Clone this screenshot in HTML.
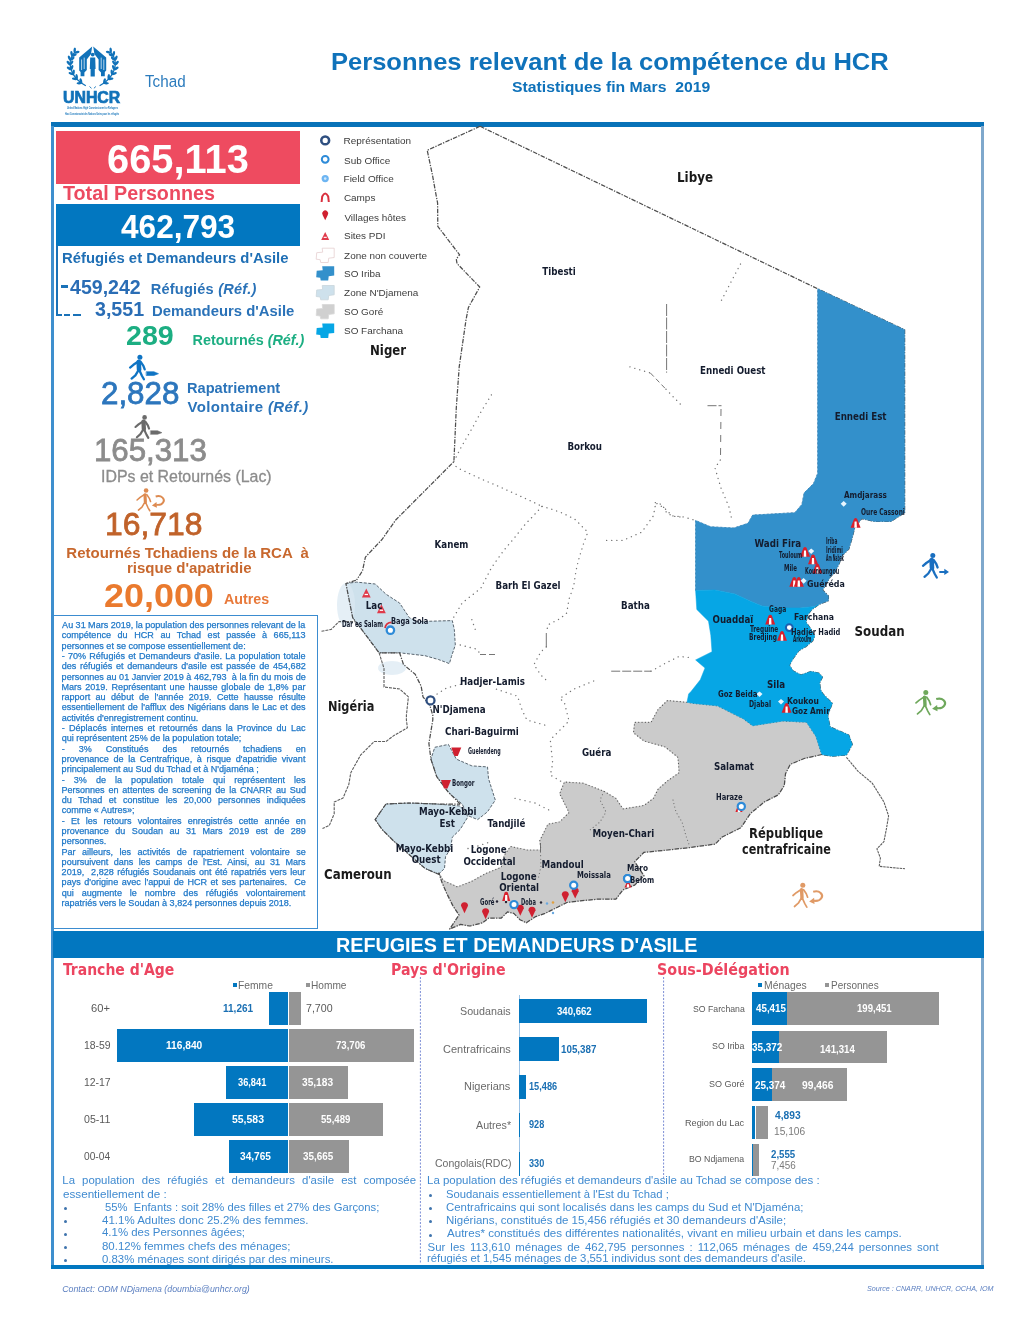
<!DOCTYPE html>
<html lang="fr">
<head>
<meta charset="utf-8">
<title>Tchad - Personnes relevant de la compétence du HCR - Statistiques fin Mars 2019</title>
<style>
html,body{margin:0;padding:0;background:#fff;}
body{width:1024px;height:1325px;position:relative;overflow:hidden;font-family:"Liberation Sans",sans-serif;}
.t{position:absolute;white-space:pre;line-height:1;margin:0;padding:0;font-weight:400;font-family:"Liberation Sans",sans-serif;}
.d{font-family:"DejaVu Sans","Liberation Sans",sans-serif;}
.c{font-family:"DejaVu Sans Condensed","DejaVu Sans","Liberation Sans",sans-serif;}
.b{font-weight:700;}
.i{font-style:italic;}
.r{position:absolute;}
svg{position:absolute;left:0;top:0;overflow:visible;}
.p{position:absolute;margin:0;line-height:1;white-space:nowrap;font-family:"Liberation Sans",sans-serif;}
.p span{position:absolute;left:0;white-space:pre;}
main,header,section,footer,aside,article,figure{display:block;margin:0;padding:0;}
</style>
</head>
<body>

<header>
<svg width="1024" height="130" viewBox="0 0 1024 130" role="img" aria-label="UNHCR logo">
<g fill="#1172b9">
<path d="M75.0 52.0 C66.3 60.5 68.8 76.5 85.8 85.8" fill="none" stroke="#1172b9" stroke-width="1.3"/>
<ellipse cx="74.7" cy="50.1" rx="2.7" ry="1.25" transform="rotate(275 74.7 50.1)"/>
<ellipse cx="76.9" cy="52.2" rx="2.7" ry="1.25" transform="rotate(351 76.9 52.2)"/>
<ellipse cx="71.6" cy="53.6" rx="2.7" ry="1.25" transform="rotate(260 71.6 53.6)"/>
<ellipse cx="74.2" cy="55.0" rx="2.7" ry="1.25" transform="rotate(336 74.2 55.0)"/>
<ellipse cx="69.4" cy="58.1" rx="2.7" ry="1.25" transform="rotate(244 69.4 58.1)"/>
<ellipse cx="72.3" cy="58.7" rx="2.7" ry="1.25" transform="rotate(320 72.3 58.7)"/>
<ellipse cx="68.6" cy="63.1" rx="2.7" ry="1.25" transform="rotate(228 68.6 63.1)"/>
<ellipse cx="71.5" cy="62.9" rx="2.7" ry="1.25" transform="rotate(304 71.5 62.9)"/>
<ellipse cx="69.1" cy="68.4" rx="2.7" ry="1.25" transform="rotate(214 69.1 68.4)"/>
<ellipse cx="71.9" cy="67.5" rx="2.7" ry="1.25" transform="rotate(290 71.9 67.5)"/>
<ellipse cx="71.1" cy="73.7" rx="2.7" ry="1.25" transform="rotate(200 71.1 73.7)"/>
<ellipse cx="73.6" cy="72.2" rx="2.7" ry="1.25" transform="rotate(276 73.6 72.2)"/>
<ellipse cx="74.6" cy="78.8" rx="2.7" ry="1.25" transform="rotate(188 74.6 78.8)"/>
<ellipse cx="76.7" cy="76.8" rx="2.7" ry="1.25" transform="rotate(264 76.7 76.8)"/>
<ellipse cx="79.2" cy="83.2" rx="2.7" ry="1.25" transform="rotate(178 79.2 83.2)"/>
<ellipse cx="80.9" cy="80.8" rx="2.7" ry="1.25" transform="rotate(254 80.9 80.8)"/>
<path d="M110.4 52.0 C119.1 60.5 116.6 76.5 99.6 85.8" fill="none" stroke="#1172b9" stroke-width="1.3"/>
<ellipse cx="110.7" cy="50.1" rx="2.7" ry="1.25" transform="rotate(-95 110.7 50.1)"/>
<ellipse cx="108.5" cy="52.2" rx="2.7" ry="1.25" transform="rotate(-171 108.5 52.2)"/>
<ellipse cx="113.8" cy="53.6" rx="2.7" ry="1.25" transform="rotate(-80 113.8 53.6)"/>
<ellipse cx="111.2" cy="55.0" rx="2.7" ry="1.25" transform="rotate(-156 111.2 55.0)"/>
<ellipse cx="116.0" cy="58.1" rx="2.7" ry="1.25" transform="rotate(-64 116.0 58.1)"/>
<ellipse cx="113.1" cy="58.7" rx="2.7" ry="1.25" transform="rotate(-140 113.1 58.7)"/>
<ellipse cx="116.8" cy="63.1" rx="2.7" ry="1.25" transform="rotate(-48 116.8 63.1)"/>
<ellipse cx="113.9" cy="62.9" rx="2.7" ry="1.25" transform="rotate(-124 113.9 62.9)"/>
<ellipse cx="116.3" cy="68.4" rx="2.7" ry="1.25" transform="rotate(-34 116.3 68.4)"/>
<ellipse cx="113.5" cy="67.5" rx="2.7" ry="1.25" transform="rotate(-110 113.5 67.5)"/>
<ellipse cx="114.3" cy="73.7" rx="2.7" ry="1.25" transform="rotate(-20 114.3 73.7)"/>
<ellipse cx="111.8" cy="72.2" rx="2.7" ry="1.25" transform="rotate(-96 111.8 72.2)"/>
<ellipse cx="110.8" cy="78.8" rx="2.7" ry="1.25" transform="rotate(-8 110.8 78.8)"/>
<ellipse cx="108.7" cy="76.8" rx="2.7" ry="1.25" transform="rotate(-84 108.7 76.8)"/>
<ellipse cx="106.2" cy="83.2" rx="2.7" ry="1.25" transform="rotate(2 106.2 83.2)"/>
<ellipse cx="104.5" cy="80.8" rx="2.7" ry="1.25" transform="rotate(-74 104.5 80.8)"/>
<path d="M92.2 46.6 L79.2 57.4 L79.2 70.5 L80.6 72 L80.6 76.2 L84.4 76.2 L84.4 72.500 L86.8 70 L86.8 59.5 L91 54 Z"/>
<path d="M93.2 46.6 L106.2 57.4 L106.2 70.5 L104.8 72 L104.8 76.2 L101 76.2 L101 72.500 L98.6 70 L98.6 59.5 L94.4 54 Z"/>
<circle cx="92.7" cy="54.6" r="1.9"/>
<path d="M90.2 57.6 L95.2 57.6 L95.600 69 L94.8 69 L94.8 76.4 L90.600 76.4 L90.600 69 L89.8 69 Z"/>
<path d="M89.5 86.5 L91.5 88.3 M95.9 86.5 L93.9 88.3" stroke="#1172b9" stroke-width="0.9" fill="none"/>
</g>
<g stroke="#fff" stroke-width="0.7" fill="none"><path d="M81.6 59.5 V70 M84.2 57.600 V69 M103.8 59.5 V70 M101.2 57.600 V69"/></g>
</svg>
<div class="t b" style="left:63.2px;top:90.4px;font-size:16px;color:#1172b9;transform:scaleX(0.990);transform-origin:0 0;-webkit-text-stroke:0.7px #1172b9;">UNHCR</div>
<div class="t b" style="left:66.9px;top:106.9px;font-size:3.2px;color:#1172b9;transform:scaleX(0.691);transform-origin:0 0;">United Nations High Commissioner for Refugees</div>
<div class="t b" style="left:64.9px;top:112.7px;font-size:3.2px;color:#1172b9;transform:scaleX(0.642);transform-origin:0 0;">Haut Commissariat des Nations Unies pour les réfugiés</div>
<div class="t" style="left:144.5px;top:73.2px;font-size:16.3px;color:#2b7bbd;transform:scaleX(0.935);transform-origin:0 0;">Tchad</div>
<h1 class="t b" style="left:330.9px;top:50.0px;font-size:24px;color:#0f72ba;transform:scaleX(1.064);transform-origin:0 0;">Personnes relevant de la compétence du HCR</h1>
<h2 class="t b" style="left:511.8px;top:79.1px;font-size:15.5px;color:#0f72ba;transform:scaleX(1.019);transform-origin:0 0;">Statistiques fin Mars  2019</h2>
</header>
<div class="r" style="left:50.8px;top:122.2px;width:932.8px;height:4.6px;background:#0872b8;"></div>
<div class="r" style="left:50.8px;top:126.0px;width:3.0px;height:1142.0px;background:#3e8fce;"></div>
<div class="r" style="left:980.6px;top:126.0px;width:3.0px;height:1142.0px;background:#7fa8cc;"></div>
<div class="r" style="left:50.8px;top:1264.6px;width:932.8px;height:4.6px;background:#0277c0;"></div>
<aside>
<div class="r" style="left:55.6px;top:131.3px;width:244.6px;height:52.6px;background:#ee4b60;"></div>
<div class="t b" style="left:106.8px;top:138.4px;font-size:41.5px;color:#fff;transform:scaleX(0.960);transform-origin:0 0;">665,113</div>
<div class="t b" style="left:63.3px;top:184.0px;font-size:19.6px;color:#ec4a60;transform:scaleX(1.006);transform-origin:0 0;">Total Personnes</div>
<div class="r" style="left:55.6px;top:203.6px;width:244.6px;height:42.0px;background:#0277c0;"></div>
<div class="t b" style="left:120.8px;top:210.3px;font-size:33px;color:#fff;transform:scaleX(0.957);transform-origin:0 0;">462,793</div>
<div class="t b" style="left:62.4px;top:250.5px;font-size:14.6px;color:#1f6fb5;transform:scaleX(1.018);transform-origin:0 0;">Réfugiés et Demandeurs d'Asile</div>
<div class="r" style="left:56.4px;top:245.0px;width:2.0px;height:70.8px;background:#1a72b8;"></div>
<div class="r" style="left:56.4px;top:313.6px;width:6.0px;height:2.2px;background:#1a72b8;"></div>
<div class="r" style="left:64.2px;top:313.6px;width:6.0px;height:2.2px;background:#1a72b8;"></div>
<div class="r" style="left:73.0px;top:313.6px;width:8.2px;height:2.2px;background:#1a72b8;"></div>
<div class="r" style="left:61.2px;top:285.4px;width:7.0px;height:2.2px;background:#1a72b8;"></div>
<div class="t b" style="left:70.3px;top:276.7px;font-size:20.8px;color:#2a6db5;transform:scaleX(0.941);transform-origin:0 0;">459,242</div>
<div class="t" style="left:150.7px;top:282.2px;font-size:14.6px;color:#2a72b8;letter-spacing:0.20px;"><span class="b">Réfugiés </span><span class="b i">(Réf.)</span></div>
<div class="t b" style="left:95.3px;top:298.7px;font-size:20.8px;color:#2a6db5;transform:scaleX(0.944);transform-origin:0 0;">3,551</div>
<div class="t b" style="left:151.8px;top:303.6px;font-size:14.6px;color:#2a72b8;transform:scaleX(1.019);transform-origin:0 0;">Demandeurs d'Asile</div>
<div class="t b" style="left:125.5px;top:322.4px;font-size:27.8px;color:#1cae82;transform:scaleX(1.030);transform-origin:0 0;">289</div>
<div class="t" style="left:192.6px;top:333.2px;font-size:14.4px;color:#1cae82;letter-spacing:-0.01px;"><span class="b">Retournés </span><span class="b i">(Réf.)</span></div>
<div class="t" style="left:100.9px;top:378.3px;font-size:31.6px;color:#2c76bd;transform:scaleX(0.991);transform-origin:0 0;-webkit-text-stroke:0.8px #2c76bd;">2,828</div>
<div class="t b" style="left:186.7px;top:381.4px;font-size:14.6px;color:#2b74ba;transform:scaleX(0.999);transform-origin:0 0;">Rapatriement</div>
<div class="t" style="left:187.5px;top:398.8px;font-size:15px;color:#2b74ba;letter-spacing:0.37px;"><span class="b">Volontaire </span><span class="b i">(Réf.)</span></div>
<div class="t" style="left:93.7px;top:435.3px;font-size:31.6px;color:#8c8c8c;transform:scaleX(0.988);transform-origin:0 0;-webkit-text-stroke:0.8px #8c8c8c;">165,313</div>
<div class="t" style="left:100.6px;top:469.1px;font-size:15.7px;color:#8c8c8c;transform:scaleX(1.014);transform-origin:0 0;-webkit-text-stroke:0.3px #8c8c8c;">IDPs et Retournés (Lac)</div>
<div class="t" style="left:105.1px;top:508.7px;font-size:31.6px;color:#c0622a;transform:scaleX(1.008);transform-origin:0 0;-webkit-text-stroke:0.8px #c0622a;">16,718</div>
<div class="t b" style="left:66.3px;top:545.1px;font-size:15px;color:#c8682e;transform:scaleX(1.000);transform-origin:0 0;">Retournés Tchadiens de la RCA  à</div>
<div class="t b" style="left:126.5px;top:559.9px;font-size:15px;color:#c8682e;transform:scaleX(1.001);transform-origin:0 0;">risque d'apatridie</div>
<div class="t b" style="left:104.4px;top:579.5px;font-size:32.5px;color:#ea7a2e;transform:scaleX(1.105);transform-origin:0 0;">20,000</div>
<div class="t b" style="left:223.6px;top:592.1px;font-size:14.4px;color:#e8793a;transform:scaleX(0.993);transform-origin:0 0;">Autres</div>
<svg width="1024" height="1325" viewBox="0 0 1024 1325">
<g transform="translate(139.9,357.3) scale(1.0)" fill="#0f74c4" stroke="#0f74c4" stroke-linecap="round" stroke-linejoin="round"><circle cx="0" cy="0" r="2.5" stroke="none"/><path d="M-1.2 4.6 L-0.8 12.500" fill="none" stroke-width="4.6"/><path d="M-2 4.5 L-6.500 7.500 L-9.800 10.300 M0.800 4.5 L3.500 8.500 L4.800 12 M-1.500 13 L-4.500 18 L-8.300 21.300 M-0.500 13 L2 18.500 L4 22" fill="none" stroke-width="2.3"/><path d="M6.600 14.400 L14 14.400 L18.600 16.400 L14 18.200 L6.600 18.200 Z" stroke-width="0.6"/></g>
<g transform="translate(144.6,417.4) scale(0.93)" fill="#6b6b6b" stroke="#6b6b6b" stroke-linecap="round" stroke-linejoin="round"><circle cx="0" cy="0" r="2.5" stroke="none"/><path d="M-1.2 4.6 L-0.8 12.500" fill="none" stroke-width="4.6"/><path d="M-2 4.5 L-6.500 7.500 L-9.800 10.300 M0.800 4.5 L3.500 8.500 L4.800 12 M-1.500 13 L-4.500 18 L-8.300 21.300 M-0.500 13 L2 18.500 L4 22" fill="none" stroke-width="2.3"/><path d="M6.600 14.400 L14 14.400 L18.600 16.400 L14 18.200 L6.600 18.200 Z" stroke-width="0.6"/></g>
<g transform="translate(146.1,490.5) scale(0.92)" fill="#dd8a50" stroke="#dd8a50" stroke-linecap="round" stroke-linejoin="round"><circle cx="0" cy="0" r="2.5" stroke="none"/><path d="M-1.2 4.6 L-0.8 12.500" fill="none" stroke-width="3.4"/><path d="M-2 4.5 L-6.500 7.500 L-9.800 10.300 M0.800 4.5 L3.500 8.500 L4.800 12 M-1.500 13 L-4.500 18 L-8.300 21.300 M-0.500 13 L2 18.500 L4 22" fill="none" stroke-width="1.7"/><path d="M10.400 6.500 C17 4.600 21 9.500 18.500 13 C17 15.300 13.800 15.900 11 15.500" fill="none" stroke-width="2.1" stroke-linecap="butt"/><path d="M6.300 16.200 L11.300 12.500 L11.700 18.700 Z" stroke="none"/></g>
</svg>
<article>
<div class="r" style="left:50.8px;top:615.0px;width:266.8px;height:314.4px;background:transparent;border:1.6px solid #3b8cd0;box-sizing:border-box;"></div>
<p class="p" style="left:0;top:0;font-size:9.05px;color:#1f78c8;-webkit-text-stroke:0.25px #1f78c8;">
<span style="left:62.1px;top:621.1px;word-spacing:-0.07px;">Au 31 Mars 2019, la population des personnes relevant de la</span>
<span style="left:61.7px;top:631.4px;word-spacing:4.07px;">compétence du HCR au Tchad est passée à 665,113</span>
<span style="left:61.6px;top:641.7px;word-spacing:0.00px;">personnes et se compose essentiellement de:</span>
<span style="left:61.7px;top:652.0px;word-spacing:0.73px;">- 70% Réfugiés et Demandeurs d'asile. La population totale</span>
<span style="left:61.7px;top:662.3px;word-spacing:1.24px;">des réfugiés et demandeurs d'asile est passée de 454,682</span>
<span style="left:61.6px;top:672.5px;word-spacing:0.09px;">personnes au 01 Janvier 2019 à 462,793  à la fin du mois de</span>
<span style="left:61.4px;top:682.8px;word-spacing:1.21px;">Mars 2019. Représentant une hausse globale de 1,8% par</span>
<span style="left:61.5px;top:693.1px;word-spacing:2.89px;">rapport au début de l'année 2019. Cette hausse résulte</span>
<span style="left:61.7px;top:703.4px;word-spacing:0.77px;">essentiellement de l'afflux des Nigérians dans le Lac et des</span>
<span style="left:61.7px;top:713.7px;word-spacing:0.00px;">activités d'enregistrement continu.</span>
<span style="left:61.7px;top:724.0px;word-spacing:1.78px;">- Déplacés internes et retournés dans la Province du Lac</span>
<span style="left:61.7px;top:734.3px;word-spacing:0.00px;">qui représentent 25% de la population totale;</span>
<span style="left:61.7px;top:744.6px;word-spacing:11.44px;">- 3% Constitués des retournés tchadiens en</span>
<span style="left:61.6px;top:754.9px;word-spacing:2.11px;">provenance de la Centrafrique, à risque d'apatridie vivant</span>
<span style="left:61.6px;top:765.2px;word-spacing:0.00px;">principalement au Sud du Tchad et à N'djaména ;</span>
<span style="left:61.7px;top:775.5px;word-spacing:6.54px;">- 3% de la population totale qui représentent les</span>
<span style="left:61.4px;top:785.8px;word-spacing:1.30px;">Personnes en attentes de screening de la CNARR au Sud</span>
<span style="left:61.7px;top:796.1px;word-spacing:4.04px;">du Tchad et constitue les 20,000 personnes indiquées</span>
<span style="left:61.7px;top:806.3px;word-spacing:0.00px;">comme « Autres»;</span>
<span style="left:61.7px;top:816.6px;word-spacing:3.68px;">- Et les retours volontaires enregistrés cette année en</span>
<span style="left:61.6px;top:826.9px;word-spacing:3.94px;">provenance du Soudan au 31 Mars 2019 est de 289</span>
<span style="left:61.6px;top:837.2px;word-spacing:0.00px;">personnes.</span>
<span style="left:61.4px;top:847.5px;word-spacing:3.94px;">Par ailleurs, les activités de rapatriement volontaire se</span>
<span style="left:61.6px;top:857.8px;word-spacing:2.84px;">poursuivent dans les camps de l'Est. Ainsi, au 31 Mars</span>
<span style="left:61.6px;top:868.1px;word-spacing:0.93px;">2019,  2,828 réfugiés Soudanais ont été rapatriés vers leur</span>
<span style="left:61.6px;top:878.4px;word-spacing:1.04px;">pays d'origine avec l'appui de HCR et ses partenaires.  Ce</span>
<span style="left:61.7px;top:888.7px;word-spacing:5.40px;">qui augmente le nombre des réfugiés volontairement</span>
<span style="left:61.5px;top:899.0px;word-spacing:0.00px;">rapatriés vers le Soudan à 3,824 personnes depuis 2018.</span>
</p>
</article>
</aside>
<figure>
<svg width="1024" height="1325" viewBox="0 0 1024 1325" role="img" aria-label="Carte du Tchad">
<path d="M821.8 754.5 L804.2 758.5 L790.2 764.4 L785.5 773.8 L784.3 785.5 L778.4 794.8 L764.4 801.9 L750.3 813.6 L740.9 827.7 L722.2 837 L715.2 844.1 L689.4 847.6 L667.5 850 L644 852.3 L634.7 861.7 L644 875.8 L634.7 885.1 L623 889.8 L615.9 899.2 L597.2 899.2 L580 900.9 L566.9 902.5 L557.5 907.2 L545 913.4 L535.6 916.6 L526.3 922.8 L520 919.7 L513.8 913.4 L507.5 911.9 L501.3 918 L488.8 918 L482.5 922.8 L470 926 L460.6 924.4 L449.7 929 L452.8 924.4 L459 915 L452.8 905.6 L446.6 893.1 L441.9 882.2 L438.8 872.8 L443.4 880.6 L457.5 886.9 L471.6 881.4 L485.6 873.6 L501.3 867.3 L504.4 855 L510.5 846.5 L526.9 850 L540.9 850 L539.8 840.6 L548 824.2 L559.7 821.9 L569.1 812.5 L559.7 793.7 L564.4 782 L583.1 783.2 L604.2 791.4 L615.9 798.4 L623 809 L644 805.5 L653.4 798.4 L658.1 789.1 L667.5 780.9 L679.2 772.7 L678 757.4 L665.1 746.9 L644 741 L633.5 732.8 L634.7 722.3 L651.1 722.3 L658.1 709.4 L667.5 700.5 L687 702.3 L694.1 703.4 L717.5 705.8 L743.3 718.7 L752.7 725.7 L783.1 721 L806.6 722.2 L815.9 736.2 L821.8 754.5 Z" fill="#cbcbcb" stroke="#cbcbcb" stroke-width="0.8"/>
<path d="M345.9 583.5 L356.6 582.1 L375.2 584 L386 594.2 L399.6 603 L409.4 617.7 L417.2 621.6 L452.3 620.6 L454.3 629.4 L455.3 645 L451.4 656.7 L449.4 663.6 L438.7 659.6 L425 655.7 L399.6 652.8 L379.1 652.8 L364.5 633.3 L352.7 617.7 L348.8 598.1 Z" fill="#cee1ec"/>
<path d="M434.8 747.3 L448.4 744.4 L456.3 759.1 L471.9 765.9 L487.5 766.9 L488.5 778.6 L495.3 800.1 L487.5 811.8 L477.7 819.6 L468 815.7 L462.1 804 L448.4 792.3 L436.7 776.6 L430.9 759.1 Z" fill="#cee1ec"/>
<path d="M375.2 819.6 L385.9 804 L409.4 803 L436.7 804 L460.2 806 L468 816.7 L460.2 829.4 L452.3 837.2 L450.4 848.9 L445.5 856.7 L444.5 868.4 L438.7 874.3 L425 868.4 L409.4 854.8 L393.8 841.1 L382 829.4 Z" fill="#cee1ec"/>
<path d="M345.9 583.5 L356.6 582.1 L375.2 584 L386 594.2 L399.6 603 L409.4 617.7 L417.2 621.6 L452.3 620.6 L454.3 629.4 L455.3 645 L451.4 656.7 L449.4 663.6 L438.7 659.6 L425 655.7 L399.6 652.8 L379.1 652.8 L364.5 633.3 L352.7 617.7 L348.8 598.1 Z" fill="none" stroke="#5a6670" stroke-width="1" stroke-dasharray="3 1.500" stroke-linejoin="round"/>
<path d="M434.8 747.3 L448.4 744.4 L456.3 759.1 L471.9 765.9 L487.5 766.9 L488.5 778.6 L495.3 800.1 L487.5 811.8 L477.7 819.6 L468 815.7 L462.1 804 L448.4 792.3 L436.7 776.6 L430.9 759.1 Z" fill="none" stroke="#5a6670" stroke-width="1" stroke-dasharray="3 1.500" stroke-linejoin="round"/>
<path d="M375.2 819.6 L385.9 804 L409.4 803 L436.7 804 L460.2 806 L468 816.7 L460.2 829.4 L452.3 837.2 L450.4 848.9 L445.5 856.7 L444.5 868.4 L438.7 874.3 L425 868.4 L409.4 854.8 L393.8 841.1 L382 829.4 Z" fill="none" stroke="#5a6670" stroke-width="1" stroke-dasharray="3 1.500" stroke-linejoin="round"/>
<path d="M821.8 754.5 L815.9 736.2 L806.6 722.2 L783.1 721 L752.7 725.7 L743.3 718.7 L717.5 705.8 L694.1 703.4 L687 702.3 L667.5 700.5 L658.1 709.4 L651.1 722.3 L634.7 722.3 L633.5 732.8 L644 741 L665.1 746.9 L678 757.4 L679.2 772.7 L667.5 780.9 L658.1 789.1 L653.4 798.4 L644 805.5 L623 809 L615.9 798.4 L604.2 791.4 L583.1 783.2 L564.4 782 L559.7 793.7 L569.1 812.5 L559.7 821.9 L548 824.2 L539.8 840.6 L540.9 850 L526.9 850 L510.5 846.5 L504.4 855 L501.3 867.3 L485.6 873.6 L471.6 881.4 L457.5 886.9 L443.4 880.6 L438.8 872.8" fill="none" stroke="#5a5a5a" stroke-width="1.2" stroke-dasharray="0.100 3.200" stroke-linecap="round" stroke-linejoin="round"/>
<path d="M695.6 590.5 L695.6 520.5 L710.5 526.8 L733.9 528 L748 523.3 L752.7 515.1 L794.8 512.7 L801.9 504.5 L804.2 492.8 L813.6 483.4 L817.7 473.4 L817.7 288.8" fill="none" stroke="#4a6a8a" stroke-width="0.8" stroke-dasharray="2 2"/>
<path d="M604 791.4 L600 800 L606 812 L600 822 L590 830" fill="none" stroke="#6a6a6a" stroke-width="1.1" stroke-dasharray="0.100 3.500" stroke-linecap="round"/>
<path d="M673 800 L676 812 L682 822 L686 836 L690 847" fill="none" stroke="#6a6a6a" stroke-width="1.1" stroke-dasharray="0.100 3.500" stroke-linecap="round"/>
<path d="M540.5 852 L541 866 L538 880" fill="none" stroke="#6a6a6a" stroke-width="1.1" stroke-dasharray="0.100 3.500" stroke-linecap="round"/>
<g fill="#dbe9f3" opacity="0.7"><ellipse cx="346" cy="605" rx="9" ry="22"/><ellipse cx="392" cy="668" rx="14" ry="7"/></g>
<g fill="none" stroke="#4d4d4d" stroke-width="1.25" stroke-linejoin="round" stroke-dasharray="4.500 1.300 1.300 1.300">
<path d="M480.1 126.3 L817.7 288.8 L904.6 329.8 L904.6 512.7 L890.9 521.4 L874.5 521.4 L861.6 518.6 L854.6 528 L852.3 537.3 L848.8 549.1 L841.7 556.1 L839.4 563.1 L834.7 572.5 L830 577.2 L822.5 590 L828.4 595.9 L828.4 600.7 L818.6 604.6 L811.8 609.5 L807.9 614.4 L805.9 622.2 L810.8 629 L814.7 635.9 L812.7 640.8 L805.9 646.6 L799 650.5 L793.2 658.4 L789.3 665.2 L793.2 671 L801 675 L810.8 671.5 L818.6 673 L822.5 677 L819.6 682.8 L820.5 690 L823 694 L832.3 703.4 L827.7 715.2 L830 726.9 L848.7 735 L852.3 744.4 L846.4 755 L832.3 756.2 L821.8 754.5"/>
</g>
<path d="M817.7 288.8 L904.6 329.8 L904.6 512.7 L890.9 521.4 L874.5 521.4 L861.6 518.6 L854.6 528 L852.3 537.3 L848.8 549.1 L841.7 556.1 L839.4 563.1 L834.7 572.5 L830 577.2 L822.5 590 L828.4 595.9 L828.4 600.7 L818.6 604.6 L814.7 606.6 L800 608 L780 608 L762 606 L750 601 L735 594 L715 590 L695.6 590.5 L695.6 520.5 L710.5 526.8 L733.9 528 L748 523.3 L752.7 515.1 L794.8 512.7 L801.9 504.5 L804.2 492.8 L813.6 483.4 L817.7 473.4 Z" fill="#3390cb" stroke="#3390cb" stroke-width="0.5"/>
<path d="M695.6 590.5 L715 590 L735 594 L750 601 L762 606 L780 608 L800 608 L814.7 606.6 L818.6 604.6 L811.8 609.5 L807.9 614.4 L805.9 622.2 L810.8 629 L814.7 635.9 L812.7 640.8 L805.9 646.6 L799 650.5 L793.2 658.4 L789.3 665.2 L793.2 671 L801 675 L810.8 671.5 L818.6 673 L822.5 677 L819.6 682.8 L820.5 690 L823 694 L832.3 703.4 L827.7 715.2 L830 726.9 L848.7 735 L852.3 744.4 L846.4 755 L832.3 756.2 L821.8 754.5 L815.9 736.2 L806.6 722.2 L783.1 721 L752.7 725.7 L743.3 718.7 L717.5 705.8 L694.1 703.4 L687 702.3 L688.6 694 L691 691.5 L700.3 679.8 L705 668 L695.6 659.9 L712 651.7 L710.8 635.3 L708.5 621.2 L696.8 609.5 Z" fill="#06a6e5" stroke="#06a6e5" stroke-width="0.5"/>
<g fill="none" stroke="#4d4d4d" stroke-width="1.25" stroke-linejoin="round" stroke-dasharray="4.500 1.300 1.300 1.300">
<path d="M821.8 754.5 L804.2 758.5 L790.2 764.4 L785.5 773.8 L784.3 785.5 L778.4 794.8 L764.4 801.9 L750.3 813.6 L740.9 827.7 L722.2 837 L715.2 844.1 L689.4 847.6 L667.5 850 L644 852.3 L634.7 861.7 L644 875.8 L634.7 885.1 L623 889.8 L615.9 899.2 L597.2 899.2 L580 900.9 L566.9 902.5 L557.5 907.2 L545 913.4 L535.6 916.6 L526.3 922.8 L520 919.7 L513.8 913.4 L507.5 911.9 L501.3 918 L488.8 918 L482.5 922.8 L470 926 L460.6 924.4 L449.7 929 L452.8 924.4 L459 915 L452.8 905.6 L446.6 893.1 L441.9 882.2 L438.8 872.8"/>
<path d="M480.1 126.3 L427.2 150.3 L432.5 175.2 L436 194.7 L437.6 203 L437.8 226.4 L459.6 254.8 L456.3 259 L457 263.5 L479.7 287 L468.4 307.5 L466 320 L459.2 366.9 L456.3 407.9 L453.9 461.6 L395.7 520 L382 539.5 L365.4 557.1 L362.5 570.8 L356.6 580"/>
<path d="M460.2 804 L448.4 792.3 L436.7 776.6 L430.9 759.1 L428.9 743.4 L432.8 720 L432.8 715.3 L429.9 705.5 L423 696.8 L421.1 686 L415.2 674.3 L403.5 664.5 L399.6 652.8 L379.1 652.8 L364.5 633.3 L352.7 617.7 L348.8 598.1 L345.9 583.5 L356.6 580"/>
<path d="M438.8 872.8 L438.7 874.3 L425 868.4 L409.4 854.8 L393.8 841.1 L382 829.4 L375.2 819.6 L385.9 804 L409.4 803 L436.7 804 L460.2 804"/>
</g>
<g fill="none" stroke="#5e5e5e" stroke-width="1.1" stroke-linejoin="round">
<path d="M321.5 631.3 L331.3 629.4 L339 621.6 L354.7 621.6" stroke-dasharray="3 1"/>
<path d="M379.1 652.8 L384 668.4 L384 687 L399.6 689 L408.4 696.8 L406.4 715.3 L406.4 720 L407.4 727.8 L393.8 735.6 L386 741.5 L374.2 741.5 L360.5 755.2 L350.8 772.7 L348.8 784.5 L343 798.1 L334.2 802 L334.2 813.8 L329.3 825.5 L322.5 828.4" stroke-dasharray="3 1"/>
<path d="M846.4 757.3 L858.1 771.4 L872.2 783.1 L883.9 801.9 L888.6 815.9 L886.2 830 L883.9 841.7 L876.9 848.8 L880.4 858.1 L879.2 866.3 L890.9 867.5 L905 868.7" stroke-dasharray="2.500 0.800"/>
</g>
<g fill="none" stroke="#747474" stroke-width="1.35" stroke-dasharray="0.100 5" stroke-linecap="round">
<path d="M453.9 461.6 L460.2 448.9 L466 438.8 L472.9 427 L481 411.8 L493 392.3"/>
<path d="M456 466.5 L460.5 469.4 L481.6 479.2 L500 487 L519.5 495.8 L534.2 502.6 L542 506.4"/>
<path d="M542 506.4 L550.3 508.7 L563.2 513.4 L574.9 519.3 L583.1 527.5 L587.8 532.2 L583.1 545 L578.4 560.3 L576 570.8 L573.7 586 L569 599 L566.7 613 L559.7 618.9 L548 624.8 L546.3 633"/>
<path d="M546.3 647 L540.9 651.7 L533.9 664.6 L540.9 675.1 L548 681.7"/>
<path d="M542 506.4 L524.5 525.2 L515.2 536.9 L503.4 550.9 L491.7 567.3 L480.7 588.4 L462.1 603 L452.3 619.6"/>
<path d="M471.9 619.6 L475.8 631.3"/>
<path d="M460.2 645 L475.8 648.9 L481.6 654.8"/>
<path d="M606.6 540.4 L623 540.4 L641.7 532.2 L653.4 515.8 L655.8 502.9 L665.1 508.7 L672.2 515.8 L683.9 517 L695.6 520.5"/>
<path d="M651.1 671.2 L665.1 663.4 L679.2 656.4 L691 657.6"/>
<path d="M593.7 681 L573.7 689.2 L559.7 698.6 L564.4 702.3 L569 721 L550.3 739.8 L552.7 763.3 L550.3 775 L562 782"/>
<path d="M496.4 689.2 L517.5 696.2 L522.2 710.3 L526.9 720 L548 726"/>
<path d="M432.8 696.8 L446.5 688 L462 684"/>
<path d="M515 798.4 L535 803 L553 812"/>
<path d="M629.9 366.9 L650.4 373"/>
<path d="M666 389.3 L673.4 397 L681.6 405.4"/>
<path d="M720.3 460 L715 468 L721 488 L729 507 L731.6 518.6"/>
<path d="M655.3 502.6 L662.1 504.6 L667 513.4 L673.8 516.3 L683.6 517.3"/>
<path d="M740.5 264 L731 282 L720.6 302"/>
<path d="M468 848.5 L478 846 L490 842"/>
</g>
<g fill="none" stroke="#666" stroke-width="0.9">
<path d="M666.6 304 V372.700" stroke-dasharray="12 1.500"/>
<path d="M650.4 373 L666 389.300" stroke-dasharray="5 3"/>
<path d="M546.3 633 V647"/>
<path d="M707.5 405.7 H721.5" stroke-dasharray="9 2"/>
<path d="M721 409 L720.5 457" stroke-dasharray="7 6"/>
<path d="M611.2 671.2 H651.1" stroke-dasharray="9 2"/>
<path d="M480 654.5 H495" stroke-dasharray="6 3"/>
<path d="M540.5 843 V852"/>
</g>
<circle cx="325.2" cy="140.4" r="3.9" fill="#fff" stroke="#2f4f80" stroke-width="2.6"/>
<circle cx="325.2" cy="159.3" r="3.4" fill="#fff" stroke="#2e8bd8" stroke-width="2.0"/>
<circle cx="325.2" cy="178.6" r="3.6" fill="#6db5f2"/><circle cx="325.2" cy="178.6" r="1.3" fill="#cfe8fc"/>
<path d="M321.59999999999997 202 L322.2 196.5 Q325.2 190.5 328.2 196.5 L328.8 202" fill="none" stroke="#d9303e" stroke-width="2"/>
<path d="M325.2 220.35 L322.72999999999996 215.125 A3 3 0 1 1 327.67 215.125 Z" fill="#d02030"/>
<path d="M325.2 231.92499999999998 L329.19 240.0 L321.21 240.0 Z" fill="#e03a4a"/><path d="M323.68 236.76999999999998 H326.71999999999997 V237.91 H323.68 Z" fill="#fff"/>
<path d="M322.2 248.2 L334.2 248.2 L334.2 257.5 L328.7 258.2 L328.2 262.5 L320.7 262.5 L320.2 259.7 L316.2 259.2 L316.7 252.7 L322.7 252.2 Z" fill="#fff" stroke="#e6cfd0" stroke-width="0.8" stroke-linejoin="round"/>
<path d="M322.2 266.2 L334.2 266.2 L334.2 275.5 L328.7 276.2 L328.2 280.5 L320.7 280.5 L320.2 277.7 L316.2 277.2 L316.7 270.7 L322.7 270.2 Z" fill="#3390cb" stroke="none" stroke-width="0.8" stroke-linejoin="round"/>
<path d="M322.2 285.5 L334.2 285.5 L334.2 294.8 L328.7 295.5 L328.2 299.8 L320.7 299.8 L320.2 297 L316.2 296.5 L316.7 290 L322.7 289.5 Z" fill="#cee1ec" stroke="#c9d6dc" stroke-width="0.8" stroke-linejoin="round"/>
<path d="M322.2 304.5 L334.2 304.5 L334.2 313.8 L328.7 314.5 L328.2 318.8 L320.7 318.8 L320.2 316 L316.2 315.5 L316.7 309 L322.7 308.5 Z" fill="#d0d0d0" stroke="#d8d8d8" stroke-width="0.8" stroke-linejoin="round"/>
<path d="M322.2 323.6 L334.2 323.6 L334.2 332.9 L328.7 333.6 L328.2 337.9 L320.7 337.9 L320.2 335.1 L316.2 334.6 L316.7 328.1 L322.7 327.6 Z" fill="#06a6e5" stroke="none" stroke-width="0.8" stroke-linejoin="round"/>
<path d="M366.3 588.475 L370.71000000000004 597.4000000000001 L361.89 597.4000000000001 Z" fill="#e03a4a"/><path d="M364.62 593.83 H367.98 V595.09 H364.62 Z" fill="#fff"/>
<path d="M381.4 604.275 L385.81 613.2 L376.98999999999995 613.2 Z" fill="#e03a4a"/><path d="M379.71999999999997 609.63 H383.08 V610.89 H379.71999999999997 Z" fill="#fff"/>
<path d="M385 628 Q386 622.500 391.500 622.300" fill="none" stroke="#d9303e" stroke-width="1.8"/>
<circle cx="390.4" cy="630.2" r="3.7" fill="#fff" stroke="#2e8bd8" stroke-width="2.3"/>
<circle cx="430.5" cy="700.4" r="4.0" fill="#fff" stroke="#2f4f80" stroke-width="2.3"/>
<path d="M451.3 747.5 L461.3 747.5 L457.8 756.0 L454.3 756.0 Z" fill="#d02030"/>
<path d="M441 780 L451 780 L447.5 788.5 L444 788.5 Z" fill="#d02030"/>
<path d="M464.5 913.25 L460.99 905.825 A3 3 0 1 1 468.01 905.825 Z" fill="#d02030"/>
<path d="M485.6 919.25 L482.09000000000003 911.825 A3 3 0 1 1 489.11 911.825 Z" fill="#d02030"/>
<path d="M520.3 915.75 L516.79 908.325 A3 3 0 1 1 523.81 908.325 Z" fill="#d02030"/>
<path d="M532 917.75 L528.49 910.325 A3 3 0 1 1 535.51 910.325 Z" fill="#d02030"/>
<path d="M565.3 902.25 L561.79 894.825 A3 3 0 1 1 568.81 894.825 Z" fill="#d02030"/>
<path d="M575.2 898.55 L571.69 891.125 A3 3 0 1 1 578.71 891.125 Z" fill="#d02030"/>
<path d="M502.2 901.0 L504.6 892.6 Q506.2 891.0 507.8 892.6 L510.2 901.0 Z" fill="#d9202c"/><path d="M504.9 901.0 L505.2 895.0 L507.2 895.0 L507.5 901.0 Z" fill="#fff"/>
<circle cx="514" cy="904.6" r="3.6" fill="#fff" stroke="#2e8bd8" stroke-width="2.2"/>
<circle cx="573.7" cy="885.2" r="3.6" fill="#fff" stroke="#2e8bd8" stroke-width="2.2"/>
<circle cx="627.6" cy="878.6" r="3.6" fill="#fff" stroke="#2e8bd8" stroke-width="2.2"/>
<path d="M624.5 887.5 L626.4 883.1 Q628.0 881.5 629.6 883.1 L631.5 887.5 Z" fill="#d9202c"/><path d="M626.7 887.5 L627.0 884.2 L629.0 884.2 L629.3 887.5 Z" fill="#fff"/>
<circle cx="627.6" cy="878.6" r="3.6" fill="#fff" stroke="#2e8bd8" stroke-width="2.2"/>
<path d="M735.5 812.0 L737.4 806.6 Q739.0 805.0 740.6 806.6 L742.5 812.0 Z" fill="#d9202c"/><path d="M737.7 812.0 L738.0 808.0 L740.0 808.0 L740.3 812.0 Z" fill="#fff"/>
<circle cx="741.3" cy="806.4" r="3.6" fill="#fff" stroke="#2e8bd8" stroke-width="2.2"/>
<path d="M850.6 527.8 L854.0 518.9 Q855.6 517.2 857.2 518.9 L860.6 527.8 Z" fill="#d9202c"/><path d="M854.3 527.8 L854.6 521.4 L856.6 521.4 L856.9 527.8 Z" fill="#fff"/>
<path d="M800.0 556.8 L803.4 547.9 Q805.0 546.2 806.6 547.9 L810.0 556.8 Z" fill="#d9202c"/><path d="M803.7 556.8 L804.0 550.4 L806.0 550.4 L806.3 556.8 Z" fill="#fff"/>
<path d="M808.0 564.2 L811.4 555.4 Q813.0 553.8 814.6 555.4 L818.0 564.2 Z" fill="#d9202c"/><path d="M811.7 564.2 L812.0 557.9 L814.0 557.9 L814.3 564.2 Z" fill="#fff"/>
<path d="M812.3 573.5 L815.7 564.6 Q817.3 563.0 818.9 564.6 L822.3 573.5 Z" fill="#d9202c"/><path d="M816.0 573.5 L816.3 567.2 L818.3 567.2 L818.6 573.5 Z" fill="#fff"/>
<path d="M789.3 586.8 L792.7 577.9 Q794.3 576.2 795.9 577.9 L799.3 586.8 Z" fill="#d9202c"/><path d="M793.0 586.8 L793.3 580.4 L795.3 580.4 L795.6 586.8 Z" fill="#fff"/>
<path d="M793.8 586.8 L797.2 577.9 Q798.8 576.2 800.4 577.9 L803.8 586.8 Z" fill="#d9202c"/><path d="M797.5 586.8 L797.8 580.4 L799.8 580.4 L800.1 586.8 Z" fill="#fff"/>
<path d="M765.2 624.4 L768.6 615.5 Q770.2 613.9 771.8 615.5 L775.2 624.4 Z" fill="#d9202c"/><path d="M768.9 624.4 L769.2 618.0 L771.2 618.0 L771.5 624.4 Z" fill="#fff"/>
<path d="M777.0 640.8 L780.4 631.9 Q782.0 630.2 783.6 631.9 L787.0 640.8 Z" fill="#d9202c"/><path d="M780.7 640.8 L781.0 634.4 L783.0 634.4 L783.3 640.8 Z" fill="#fff"/>
<path d="M781.6 712.8 L785.0 703.9 Q786.6 702.2 788.2 703.9 L791.6 712.8 Z" fill="#d9202c"/><path d="M785.3 712.8 L785.6 706.4 L787.6 706.4 L787.9 712.8 Z" fill="#fff"/>
<path d="M840.7 503.7 L843.7 501.09999999999997 L846.7 503.7 L843.7 506.7 Z" fill="#e8f6ff"/>
<path d="M808.2 551 L811.2 548.4 L814.2 551 L811.2 554 Z" fill="#e8f6ff"/>
<path d="M800.6 580.7 L803.6 578.1 L806.6 580.7 L803.6 583.7 Z" fill="#e8f6ff"/>
<path d="M756.5 694 L759.5 691.4 L762.5 694 L759.5 697 Z" fill="#e8f6ff"/>
<path d="M778 701.5 L781 698.9 L784 701.5 L781 704.5 Z" fill="#e8f6ff"/>
<circle cx="789.3" cy="627.6" r="3.4" fill="#fff" stroke="#1c5fb0" stroke-width="2.0"/>
<circle cx="497" cy="901.5" r="1.2" fill="#223"/>
<circle cx="506" cy="902" r="1.2" fill="#223"/>
<circle cx="541" cy="902.5" r="1.2" fill="#223"/>
<circle cx="553" cy="902.5" r="1.3" fill="#e0a040"/><circle cx="547" cy="903.5" r="1.2" fill="#6aa8e0"/><circle cx="553" cy="913" r="1.2" fill="#6aa8e0"/>
<g transform="translate(932.8,555.5) scale(1.0)" fill="#1a6fc0" stroke="#1a6fc0" stroke-linecap="round" stroke-linejoin="round"><circle cx="0" cy="0" r="2.5" stroke="none"/><path d="M-1.2 4.6 L-0.8 12.500" fill="none" stroke-width="4.6"/><path d="M-2 4.5 L-6.500 7.500 L-9.800 10.300 M0.800 4.5 L3.500 8.500 L4.800 12 M-1.500 13 L-4.500 18 L-8.300 21.300 M-0.500 13 L2 18.500 L4 22" fill="none" stroke-width="2.3"/><path d="M6.500 15.400 L11.500 15.400 L11.500 13.300 L16.200 16.400 L11.500 19.600 L11.500 17.500 L6.500 17.500 Z" stroke="none"/></g>
<g transform="translate(925.8,692.6) scale(1.0)" fill="#6fa85c" stroke="#6fa85c" stroke-linecap="round" stroke-linejoin="round"><circle cx="0" cy="0" r="2.5" stroke="none"/><path d="M-1.2 4.6 L-0.8 12.500" fill="none" stroke-width="3.4"/><path d="M-2 4.5 L-6.500 7.500 L-9.800 10.300 M0.800 4.5 L3.500 8.500 L4.800 12 M-1.500 13 L-4.500 18 L-8.300 21.300 M-0.500 13 L2 18.500 L4 22" fill="none" stroke-width="1.7"/><path d="M10.400 6.500 C17 4.600 21 9.500 18.500 13 C17 15.300 13.800 15.900 11 15.500" fill="none" stroke-width="2.1" stroke-linecap="butt"/><path d="M6.300 16.200 L11.300 12.500 L11.700 18.700 Z" stroke="none"/></g>
<g transform="translate(802.8,885.2) scale(1.0)" fill="#e09a66" stroke="#e09a66" stroke-linecap="round" stroke-linejoin="round"><circle cx="0" cy="0" r="2.5" stroke="none"/><path d="M-1.2 4.6 L-0.8 12.500" fill="none" stroke-width="3.4"/><path d="M-2 4.5 L-6.500 7.500 L-9.800 10.300 M0.800 4.5 L3.500 8.500 L4.800 12 M-1.500 13 L-4.500 18 L-8.300 21.300 M-0.500 13 L2 18.500 L4 22" fill="none" stroke-width="1.7"/><path d="M10.400 6.500 C17 4.600 21 9.500 18.500 13 C17 15.300 13.800 15.900 11 15.500" fill="none" stroke-width="2.1" stroke-linecap="butt"/><path d="M6.300 16.200 L11.300 12.500 L11.700 18.700 Z" stroke="none"/></g>
</svg>
<div class="t" style="left:343.6px;top:135.5px;font-size:9.95px;color:#3c3c3c;transform:scaleX(1.000);transform-origin:0 0;">Représentation</div>
<div class="t" style="left:344.0px;top:155.6px;font-size:9.95px;color:#3c3c3c;transform:scaleX(1.000);transform-origin:0 0;">Sub Office</div>
<div class="t" style="left:343.6px;top:173.7px;font-size:9.95px;color:#3c3c3c;transform:scaleX(1.000);transform-origin:0 0;">Field Office</div>
<div class="t" style="left:343.9px;top:193.3px;font-size:9.95px;color:#3c3c3c;transform:scaleX(1.000);transform-origin:0 0;">Camps</div>
<div class="t" style="left:344.4px;top:212.7px;font-size:9.95px;color:#3c3c3c;transform:scaleX(1.000);transform-origin:0 0;">Villages hôtes</div>
<div class="t" style="left:344.0px;top:231.3px;font-size:9.95px;color:#3c3c3c;transform:scaleX(1.000);transform-origin:0 0;">Sites PDI</div>
<div class="t" style="left:344.1px;top:250.8px;font-size:9.95px;color:#3c3c3c;transform:scaleX(1.000);transform-origin:0 0;">Zone non couverte</div>
<div class="t" style="left:344.0px;top:268.8px;font-size:9.95px;color:#3c3c3c;transform:scaleX(1.000);transform-origin:0 0;">SO Iriba</div>
<div class="t" style="left:344.1px;top:288.1px;font-size:9.95px;color:#3c3c3c;transform:scaleX(1.000);transform-origin:0 0;">Zone N'Djamena</div>
<div class="t" style="left:344.0px;top:307.1px;font-size:9.95px;color:#3c3c3c;transform:scaleX(1.000);transform-origin:0 0;">SO Goré</div>
<div class="t" style="left:344.0px;top:326.2px;font-size:9.95px;color:#3c3c3c;transform:scaleX(1.000);transform-origin:0 0;">SO Farchana</div>
<div class="t c b" style="left:677.4px;top:170.5px;font-size:13.2px;color:#1a1a1a;transform:scaleX(1.005);transform-origin:0 0;">Libye</div>
<div class="t c b" style="left:370.3px;top:344.4px;font-size:13.2px;color:#1a1a1a;transform:scaleX(0.992);transform-origin:0 0;">Niger</div>
<div class="t c b" style="left:328.3px;top:700.0px;font-size:13.2px;color:#1a1a1a;transform:scaleX(0.955);transform-origin:0 0;">Nigéria</div>
<div class="t c b" style="left:323.9px;top:867.8px;font-size:13.2px;color:#1a1a1a;transform:scaleX(0.995);transform-origin:0 0;">Cameroun</div>
<div class="t c b" style="left:854.5px;top:624.5px;font-size:13.2px;color:#1a1a1a;transform:scaleX(1.000);transform-origin:0 0;">Soudan</div>
<div class="t c b" style="left:749.3px;top:827.0px;font-size:13.2px;color:#1a1a1a;transform:scaleX(0.979);transform-origin:0 0;">République</div>
<div class="t c b" style="left:741.7px;top:843.1px;font-size:13.2px;color:#1a1a1a;transform:scaleX(0.947);transform-origin:0 0;">centrafricaine</div>
<div class="t c b" style="left:542.3px;top:267.2px;font-size:9.7px;color:#141c2e;">Tibesti</div>
<div class="t c b" style="left:700.1px;top:365.7px;font-size:9.7px;color:#141c2e;">Ennedi Ouest</div>
<div class="t c b" style="left:834.7px;top:411.9px;font-size:9.7px;color:#141c2e;">Ennedi Est</div>
<div class="t c b" style="left:567.4px;top:442.2px;font-size:9.7px;color:#141c2e;">Borkou</div>
<div class="t c b" style="left:434.6px;top:539.6px;font-size:9.7px;color:#141c2e;">Kanem</div>
<div class="t c b" style="left:495.5px;top:581.3px;font-size:9.7px;color:#141c2e;">Barh El Gazel</div>
<div class="t c b" style="left:621.1px;top:600.7px;font-size:9.7px;color:#141c2e;">Batha</div>
<div class="t c b" style="left:754.6px;top:538.5px;font-size:9.7px;color:#141c2e;">Wadi Fira</div>
<div class="t c b" style="left:712.5px;top:614.6px;font-size:9.7px;color:#141c2e;">Ouaddaï</div>
<div class="t c b" style="left:767.0px;top:679.9px;font-size:9.7px;color:#141c2e;">Sila</div>
<div class="t c b" style="left:713.9px;top:761.9px;font-size:9.7px;color:#141c2e;">Salamat</div>
<div class="t c b" style="left:581.9px;top:747.9px;font-size:9.7px;color:#141c2e;">Guéra</div>
<div class="t c b" style="left:460.0px;top:676.9px;font-size:9.7px;color:#141c2e;">Hadjer-Lamis</div>
<div class="t c b" style="left:445.1px;top:726.5px;font-size:9.7px;color:#141c2e;">Chari-Baguirmi</div>
<div class="t c b" style="left:419.1px;top:806.6px;font-size:9.7px;color:#141c2e;">Mayo-Kebbi</div>
<div class="t c b" style="left:439.5px;top:818.7px;font-size:9.7px;color:#141c2e;">Est</div>
<div class="t c b" style="left:395.7px;top:843.7px;font-size:9.7px;color:#141c2e;">Mayo-Kebbi</div>
<div class="t c b" style="left:411.7px;top:855.4px;font-size:9.7px;color:#141c2e;">Ouest</div>
<div class="t c b" style="left:487.6px;top:819.4px;font-size:9.7px;color:#141c2e;">Tandjilé</div>
<div class="t c b" style="left:470.7px;top:844.7px;font-size:9.7px;color:#141c2e;">Logone</div>
<div class="t c b" style="left:463.4px;top:856.9px;font-size:9.7px;color:#141c2e;">Occidental</div>
<div class="t c b" style="left:500.7px;top:872.2px;font-size:9.7px;color:#141c2e;">Logone</div>
<div class="t c b" style="left:499.2px;top:883.4px;font-size:9.7px;color:#141c2e;">Oriental</div>
<div class="t c b" style="left:541.5px;top:860.4px;font-size:9.7px;color:#141c2e;">Mandoul</div>
<div class="t c b" style="left:592.4px;top:828.8px;font-size:9.7px;color:#141c2e;">Moyen-Chari</div>
<div class="t c b" style="left:365.8px;top:601.2px;font-size:9.7px;color:#141c2e;">Lac</div>
<div class="t c b" style="left:432.5px;top:704.7px;font-size:9.7px;color:#141c2e;">N'Djamena</div>
<div class="t c b" style="left:843.7px;top:491.5px;font-size:8px;color:#141c2e;transform:scaleX(1.007);transform-origin:0 0;">Amdjarass</div>
<div class="t c b" style="left:861.0px;top:509.0px;font-size:8px;color:#141c2e;transform:scaleX(0.821);transform-origin:0 0;">Oure Cassoni</div>
<div class="t c b" style="left:825.7px;top:537.9px;font-size:8px;color:#141c2e;transform:scaleX(0.605);transform-origin:0 0;">Iriba</div>
<div class="t c b" style="left:778.7px;top:552.0px;font-size:8px;color:#141c2e;transform:scaleX(0.683);transform-origin:0 0;">Touloum</div>
<div class="t c b" style="left:825.6px;top:546.5px;font-size:8px;color:#141c2e;transform:scaleX(0.639);transform-origin:0 0;">Iridimi</div>
<div class="t c b" style="left:826.0px;top:554.5px;font-size:8px;color:#141c2e;transform:scaleX(0.434);transform-origin:0 0;">Am Nabak</div>
<div class="t c b" style="left:783.5px;top:565.3px;font-size:8px;color:#141c2e;transform:scaleX(0.763);transform-origin:0 0;">Mile</div>
<div class="t c b" style="left:804.6px;top:568.3px;font-size:8px;color:#141c2e;transform:scaleX(0.671);transform-origin:0 0;">Kounoungou</div>
<div class="t c b" style="left:807.3px;top:581.1px;font-size:8px;color:#141c2e;transform:scaleX(1.101);transform-origin:0 0;">Guéréda</div>
<div class="t c b" style="left:768.7px;top:606.0px;font-size:8px;color:#141c2e;transform:scaleX(0.828);transform-origin:0 0;">Gaga</div>
<div class="t c b" style="left:794.1px;top:613.5px;font-size:8px;color:#141c2e;transform:scaleX(1.077);transform-origin:0 0;">Farchana</div>
<div class="t c b" style="left:750.0px;top:626.0px;font-size:8px;color:#141c2e;transform:scaleX(0.803);transform-origin:0 0;">Treguine</div>
<div class="t c b" style="left:748.5px;top:633.5px;font-size:8px;color:#141c2e;transform:scaleX(0.817);transform-origin:0 0;">Bredjing</div>
<div class="t c b" style="left:790.7px;top:629.0px;font-size:8px;color:#141c2e;transform:scaleX(0.928);transform-origin:0 0;">Hadjer Hadid</div>
<div class="t c b" style="left:793.0px;top:636.0px;font-size:8px;color:#141c2e;transform:scaleX(0.586);transform-origin:0 0;">Arkoum</div>
<div class="t c b" style="left:718.4px;top:691.2px;font-size:8px;color:#141c2e;transform:scaleX(0.977);transform-origin:0 0;">Goz Beida</div>
<div class="t c b" style="left:787.1px;top:697.6px;font-size:8px;color:#141c2e;transform:scaleX(1.055);transform-origin:0 0;">Koukou</div>
<div class="t c b" style="left:748.5px;top:700.6px;font-size:8px;color:#141c2e;transform:scaleX(0.855);transform-origin:0 0;">Djabal</div>
<div class="t c b" style="left:792.2px;top:707.6px;font-size:8px;color:#141c2e;transform:scaleX(1.032);transform-origin:0 0;">Goz Amir</div>
<div class="t c b" style="left:715.7px;top:793.9px;font-size:8px;color:#141c2e;transform:scaleX(0.938);transform-origin:0 0;">Haraze</div>
<div class="t c b" style="left:576.7px;top:872.2px;font-size:8px;color:#141c2e;transform:scaleX(0.957);transform-origin:0 0;">Moissala</div>
<div class="t c b" style="left:626.9px;top:865.2px;font-size:8px;color:#141c2e;transform:scaleX(1.022);transform-origin:0 0;">Maro</div>
<div class="t c b" style="left:630.4px;top:876.5px;font-size:8px;color:#141c2e;transform:scaleX(0.955);transform-origin:0 0;">Belom</div>
<div class="t c b" style="left:479.8px;top:898.7px;font-size:8px;color:#141c2e;transform:scaleX(0.751);transform-origin:0 0;">Goré</div>
<div class="t c b" style="left:520.5px;top:899.0px;font-size:8px;color:#141c2e;transform:scaleX(0.709);transform-origin:0 0;">Doba</div>
<div class="t c b" style="left:391.2px;top:617.6px;font-size:8px;color:#141c2e;transform:scaleX(0.925);transform-origin:0 0;">Baga Sola</div>
<div class="t c b" style="left:341.5px;top:620.5px;font-size:8px;color:#141c2e;transform:scaleX(0.766);transform-origin:0 0;">Dar es Salam</div>
<div class="t c b" style="left:467.8px;top:748.0px;font-size:8px;color:#141c2e;transform:scaleX(0.669);transform-origin:0 0;">Guelendeng</div>
<div class="t c b" style="left:451.5px;top:780.0px;font-size:8px;color:#141c2e;transform:scaleX(0.770);transform-origin:0 0;">Bongor</div>
</figure>
<section>
<div class="r" style="left:53.0px;top:931.4px;width:930.6px;height:26.8px;background:#0277c0;"></div>
<h2 class="t b" style="left:336.3px;top:935.3px;font-size:20.6px;color:#fff;transform:scaleX(0.959);transform-origin:0 0;">REFUGIES ET DEMANDEURS D'ASILE</h2>
<h3 class="t c b" style="left:62.9px;top:961.8px;font-size:16px;color:#ec4560;transform:scaleX(0.971);transform-origin:0 0;">Tranche d'Age</h3>
<h3 class="t c b" style="left:390.9px;top:961.8px;font-size:16px;color:#ec4560;transform:scaleX(0.983);transform-origin:0 0;">Pays d'Origine</h3>
<h3 class="t c b" style="left:657.2px;top:961.8px;font-size:16px;color:#ec4560;transform:scaleX(0.994);transform-origin:0 0;">Sous-Délégation</h3>
<svg width="1024" height="1325" viewBox="0 0 1024 1325"><g stroke="#7d8fd6" stroke-width="1" stroke-dasharray="2 1.500" fill="none"><path d="M420.4 977 V1264"/><path d="M663.6 977 V1178"/></g></svg>
<div class="r" style="left:268.9px;top:991.5px;width:18.9px;height:33.0px;background:#0277c0;"></div>
<div class="r" style="left:288.9px;top:991.5px;width:12.5px;height:33.0px;background:#959595;"></div>
<div class="t" style="left:91.3px;top:1002.7px;font-size:10.8px;color:#595959;transform:scaleX(1.033);transform-origin:0 0;">60+</div>
<div class="t b" style="left:222.6px;top:1002.6px;font-size:11px;color:#1a6fb3;transform:scaleX(0.911);transform-origin:0 0;">11,261</div>
<div class="t" style="left:305.7px;top:1002.8px;font-size:11px;color:#595959;transform:scaleX(0.967);transform-origin:0 0;">7,700</div>
<div class="r" style="left:117.3px;top:1028.6px;width:170.5px;height:33.0px;background:#0277c0;"></div>
<div class="r" style="left:288.9px;top:1028.6px;width:125.2px;height:33.0px;background:#959595;"></div>
<div class="t" style="left:83.5px;top:1039.8px;font-size:10.8px;color:#595959;transform:scaleX(0.966);transform-origin:0 0;">18-59</div>
<div class="t b" style="left:165.7px;top:1039.7px;font-size:11px;color:#fff;transform:scaleX(0.926);transform-origin:0 0;">116,840</div>
<div class="t b" style="left:335.8px;top:1039.9px;font-size:11px;color:#fff;transform:scaleX(0.874);transform-origin:0 0;">73,706</div>
<div class="r" style="left:225.7px;top:1065.7px;width:62.1px;height:33.0px;background:#0277c0;"></div>
<div class="r" style="left:288.9px;top:1065.7px;width:59.2px;height:33.0px;background:#959595;"></div>
<div class="t" style="left:83.5px;top:1076.9px;font-size:10.8px;color:#595959;transform:scaleX(0.966);transform-origin:0 0;">12-17</div>
<div class="t b" style="left:237.7px;top:1076.8px;font-size:11px;color:#fff;transform:scaleX(0.841);transform-origin:0 0;">36,841</div>
<div class="t b" style="left:302.4px;top:1077.0px;font-size:11px;color:#fff;transform:scaleX(0.923);transform-origin:0 0;">35,183</div>
<div class="r" style="left:194.0px;top:1102.8px;width:93.8px;height:33.0px;background:#0277c0;"></div>
<div class="r" style="left:288.9px;top:1102.8px;width:94.2px;height:33.0px;background:#959595;"></div>
<div class="t" style="left:83.9px;top:1114.0px;font-size:10.8px;color:#595959;transform:scaleX(0.980);transform-origin:0 0;">05-11</div>
<div class="t b" style="left:231.7px;top:1113.9px;font-size:11px;color:#fff;transform:scaleX(0.950);transform-origin:0 0;">55,583</div>
<div class="t b" style="left:320.6px;top:1114.1px;font-size:11px;color:#fff;transform:scaleX(0.871);transform-origin:0 0;">55,489</div>
<div class="r" style="left:229.0px;top:1140.1px;width:58.8px;height:33.0px;background:#0277c0;"></div>
<div class="r" style="left:288.9px;top:1140.1px;width:60.5px;height:33.0px;background:#959595;"></div>
<div class="t" style="left:83.9px;top:1151.3px;font-size:10.8px;color:#595959;transform:scaleX(0.943);transform-origin:0 0;">00-04</div>
<div class="t b" style="left:240.2px;top:1151.2px;font-size:11px;color:#fff;transform:scaleX(0.920);transform-origin:0 0;">34,765</div>
<div class="t b" style="left:303.0px;top:1151.4px;font-size:11px;color:#fff;transform:scaleX(0.899);transform-origin:0 0;">35,665</div>
<div class="r" style="left:232.8px;top:982.6px;width:4.2px;height:4.4px;background:#0277c0;"></div>
<div class="t" style="left:238.2px;top:979.8px;font-size:10.6px;color:#6a6a6a;transform:scaleX(0.972);transform-origin:0 0;">Femme</div>
<div class="r" style="left:305.7px;top:982.6px;width:4.3px;height:4.4px;background:#959595;"></div>
<div class="t" style="left:311.2px;top:979.8px;font-size:10.6px;color:#6a6a6a;transform:scaleX(0.957);transform-origin:0 0;">Homme</div>
<div class="r" style="left:518.8px;top:995.0px;width:0.8px;height:181.0px;background:#9cc3e6;"></div>
<div class="r" style="left:519.2px;top:999.1px;width:128.0px;height:24.0px;background:#0277c0;"></div>
<div class="t" style="left:460.1px;top:1005.8px;font-size:10.8px;color:#6a6a6a;transform:scaleX(0.993);transform-origin:0 0;">Soudanais</div>
<div class="t b" style="left:557.1px;top:1005.7px;font-size:11px;color:#fff;transform:scaleX(0.873);transform-origin:0 0;">340,662</div>
<div class="r" style="left:519.2px;top:1037.2px;width:39.5px;height:24.0px;background:#0277c0;"></div>
<div class="t" style="left:443.0px;top:1043.9px;font-size:10.8px;color:#6a6a6a;transform:scaleX(1.018);transform-origin:0 0;">Centrafricains</div>
<div class="t b" style="left:561.1px;top:1043.8px;font-size:11px;color:#1a6fb3;transform:scaleX(0.892);transform-origin:0 0;">105,387</div>
<div class="r" style="left:519.2px;top:1074.7px;width:6.4px;height:24.0px;background:#0277c0;"></div>
<div class="t" style="left:464.4px;top:1081.4px;font-size:10.8px;color:#6a6a6a;transform:scaleX(1.016);transform-origin:0 0;">Nigerians</div>
<div class="t b" style="left:529.4px;top:1081.3px;font-size:11px;color:#1a6fb3;transform:scaleX(0.837);transform-origin:0 0;">15,486</div>
<div class="r" style="left:518.6px;top:1112.8px;width:1.4px;height:24.0px;background:#0277c0;"></div>
<div class="t" style="left:475.5px;top:1119.5px;font-size:10.8px;color:#6a6a6a;transform:scaleX(0.990);transform-origin:0 0;">Autres*</div>
<div class="t b" style="left:528.5px;top:1119.4px;font-size:11px;color:#1a6fb3;transform:scaleX(0.830);transform-origin:0 0;">928</div>
<div class="r" style="left:518.6px;top:1151.5px;width:1.4px;height:24.0px;background:#0277c0;"></div>
<div class="t" style="left:434.5px;top:1158.2px;font-size:10.8px;color:#6a6a6a;transform:scaleX(0.974);transform-origin:0 0;">Congolais(RDC)</div>
<div class="t b" style="left:528.6px;top:1158.1px;font-size:11px;color:#1a6fb3;transform:scaleX(0.830);transform-origin:0 0;">330</div>
<div class="r" style="left:751.7px;top:992.4px;width:35.3px;height:32.6px;background:#0277c0;"></div>
<div class="r" style="left:787.0px;top:992.4px;width:152.2px;height:32.6px;background:#959595;"></div>
<div class="r" style="left:751.7px;top:1030.6px;width:27.0px;height:32.6px;background:#0277c0;"></div>
<div class="r" style="left:778.7px;top:1030.6px;width:108.0px;height:32.6px;background:#959595;"></div>
<div class="r" style="left:751.7px;top:1068.1px;width:20.3px;height:32.6px;background:#0277c0;"></div>
<div class="r" style="left:772.0px;top:1068.1px;width:75.3px;height:32.6px;background:#959595;"></div>
<div class="r" style="left:751.7px;top:1106.4px;width:3.8px;height:32.6px;background:#0277c0;"></div>
<div class="r" style="left:755.5px;top:1106.4px;width:12.0px;height:32.6px;background:#959595;"></div>
<div class="r" style="left:751.7px;top:1143.8px;width:1.7px;height:32.6px;background:#0277c0;"></div>
<div class="r" style="left:753.4px;top:1143.8px;width:5.8px;height:32.6px;background:#959595;"></div>
<div class="t" style="left:692.5px;top:1004.3px;font-size:9.8px;color:#595959;transform:scaleX(0.888);transform-origin:0 0;">SO Farchana</div>
<div class="t" style="left:711.9px;top:1040.9px;font-size:9.8px;color:#595959;transform:scaleX(0.901);transform-origin:0 0;">SO Iriba</div>
<div class="t" style="left:709.1px;top:1079.2px;font-size:9.8px;color:#595959;transform:scaleX(0.920);transform-origin:0 0;">SO Goré</div>
<div class="t" style="left:685.4px;top:1118.0px;font-size:9.8px;color:#595959;transform:scaleX(0.936);transform-origin:0 0;">Region du Lac</div>
<div class="t" style="left:689.2px;top:1154.4px;font-size:9.8px;color:#595959;transform:scaleX(0.895);transform-origin:0 0;">BO Ndjamena</div>
<div class="t b" style="left:755.6px;top:1003.4px;font-size:11px;color:#fff;transform:scaleX(0.891);transform-origin:0 0;">45,415</div>
<div class="t b" style="left:856.6px;top:1003.4px;font-size:11px;color:#fff;transform:scaleX(0.873);transform-origin:0 0;">199,451</div>
<div class="t b" style="left:751.7px;top:1042.0px;font-size:11px;color:#fff;transform:scaleX(0.902);transform-origin:0 0;">35,372</div>
<div class="t b" style="left:820.2px;top:1043.9px;font-size:11px;color:#fff;transform:scaleX(0.875);transform-origin:0 0;">141,314</div>
<div class="t b" style="left:754.9px;top:1080.3px;font-size:11px;color:#fff;transform:scaleX(0.903);transform-origin:0 0;">25,374</div>
<div class="t b" style="left:801.9px;top:1080.3px;font-size:11px;color:#fff;transform:scaleX(0.938);transform-origin:0 0;">99,466</div>
<div class="t b" style="left:774.8px;top:1110.3px;font-size:11px;color:#1a6fb3;transform:scaleX(0.931);transform-origin:0 0;">4,893</div>
<div class="t" style="left:774.2px;top:1125.7px;font-size:11px;color:#7a7a7a;transform:scaleX(0.926);transform-origin:0 0;">15,106</div>
<div class="t b" style="left:770.9px;top:1148.9px;font-size:11px;color:#1a6fb3;transform:scaleX(0.881);transform-origin:0 0;">2,555</div>
<div class="t" style="left:770.7px;top:1160.2px;font-size:11px;color:#7a7a7a;transform:scaleX(0.894);transform-origin:0 0;">7,456</div>
<div class="r" style="left:757.9px;top:982.6px;width:4.5px;height:4.4px;background:#0277c0;"></div>
<div class="t" style="left:764.0px;top:979.8px;font-size:10.6px;color:#6a6a6a;transform:scaleX(0.979);transform-origin:0 0;">Ménages</div>
<div class="r" style="left:824.9px;top:982.6px;width:4.5px;height:4.4px;background:#959595;"></div>
<div class="t" style="left:831.0px;top:979.8px;font-size:10.6px;color:#6a6a6a;transform:scaleX(0.940);transform-origin:0 0;">Personnes</div>
<div>
<div class="t" style="left:62.3px;top:1174.5px;font-size:11.4px;color:#3f8ad0;word-spacing:3.97px;">La population des réfugiés et demandeurs d'asile est composée</div>
<div class="t" style="left:62.7px;top:1188.6px;font-size:11.4px;color:#3f8ad0;transform:scaleX(1.024);transform-origin:0 0;">essentiellement de :</div>
<div class="r" style="left:64.1px;top:1206.8px;width:3.2px;height:3.2px;background:#3f74ad;border-radius:50%;"></div>
<div class="t" style="left:105.4px;top:1201.6px;font-size:11.4px;color:#3f8ad0;transform:scaleX(0.987);transform-origin:0 0;">55%  Enfants : soit 28% des filles et 27% des Garçons;</div>
<div class="r" style="left:64.1px;top:1220.0px;width:3.2px;height:3.2px;background:#3f74ad;border-radius:50%;"></div>
<div class="t" style="left:101.8px;top:1214.8px;font-size:11.4px;color:#3f8ad0;transform:scaleX(1.010);transform-origin:0 0;">41.1% Adultes donc 25.2% des femmes.</div>
<div class="r" style="left:64.1px;top:1232.6px;width:3.2px;height:3.2px;background:#3f74ad;border-radius:50%;"></div>
<div class="t" style="left:101.8px;top:1227.4px;font-size:11.4px;color:#3f8ad0;transform:scaleX(1.004);transform-origin:0 0;">4.1% des Personnes âgées;</div>
<div class="r" style="left:64.1px;top:1245.8px;width:3.2px;height:3.2px;background:#3f74ad;border-radius:50%;"></div>
<div class="t" style="left:101.5px;top:1240.6px;font-size:11.4px;color:#3f8ad0;transform:scaleX(1.006);transform-origin:0 0;">80.12% femmes chefs des ménages;</div>
<div class="r" style="left:64.1px;top:1259.2px;width:3.2px;height:3.2px;background:#3f74ad;border-radius:50%;"></div>
<div class="t" style="left:101.6px;top:1254.0px;font-size:11.4px;color:#3f8ad0;transform:scaleX(0.999);transform-origin:0 0;">0.83% ménages sont dirigés par des mineurs.</div>
</div>
<div>
<div class="t" style="left:427.2px;top:1174.5px;font-size:11.4px;color:#3f8ad0;transform:scaleX(1.008);transform-origin:0 0;">La population des réfugiés et demandeurs d'asile au Tchad se compose des :</div>
<div class="r" style="left:429.0px;top:1193.8px;width:3.2px;height:3.2px;background:#3f74ad;border-radius:50%;"></div>
<div class="t" style="left:446.4px;top:1188.6px;font-size:11.4px;color:#3f8ad0;transform:scaleX(0.988);transform-origin:0 0;">Soudanais essentiellement à l'Est du Tchad ;</div>
<div class="r" style="left:429.0px;top:1206.7px;width:3.2px;height:3.2px;background:#3f74ad;border-radius:50%;"></div>
<div class="t" style="left:446.3px;top:1201.5px;font-size:11.4px;color:#3f8ad0;transform:scaleX(1.002);transform-origin:0 0;">Centrafricains qui sont localisés dans les camps du Sud et N'Djaména;</div>
<div class="r" style="left:429.0px;top:1220.2px;width:3.2px;height:3.2px;background:#3f74ad;border-radius:50%;"></div>
<div class="t" style="left:446.0px;top:1215.0px;font-size:11.4px;color:#3f8ad0;transform:scaleX(1.007);transform-origin:0 0;">Nigérians, constitués de 15,456 réfugiés et 30 demandeurs d'Asile;</div>
<div class="r" style="left:429.0px;top:1233.6px;width:3.2px;height:3.2px;background:#3f74ad;border-radius:50%;"></div>
<div class="t" style="left:446.9px;top:1228.4px;font-size:11.4px;color:#3f8ad0;transform:scaleX(1.015);transform-origin:0 0;">Autres* constitués des différentes nationalités, vivant en milieu urbain et dans les camps.</div>
<div class="t" style="left:427.6px;top:1242.2px;font-size:11.4px;color:#3f8ad0;word-spacing:1.88px;">Sur les 113,610 ménages de 462,795 personnes : 112,065 ménages de 459,244 personnes sont</div>
<div class="t" style="left:427.4px;top:1253.4px;font-size:11.4px;color:#3f8ad0;transform:scaleX(0.995);transform-origin:0 0;">réfugiés et 1,545 ménages de 3,551 individus sont des demandeurs d'asile.</div>
</div>
<footer>
<div class="t i" style="left:62.2px;top:1284.5px;font-size:8.8px;color:#5b7fc0;transform:scaleX(1.000);transform-origin:0 0;">Contact: ODM NDjamena (doumbia@unhcr.org)</div>
<div class="t i" style="left:866.6px;top:1285.3px;font-size:7.3px;color:#5b7fc0;transform:scaleX(0.984);transform-origin:0 0;">Source : CNARR, UNHCR, OCHA, IOM</div>
</footer>
</section>
</body>
</html>
